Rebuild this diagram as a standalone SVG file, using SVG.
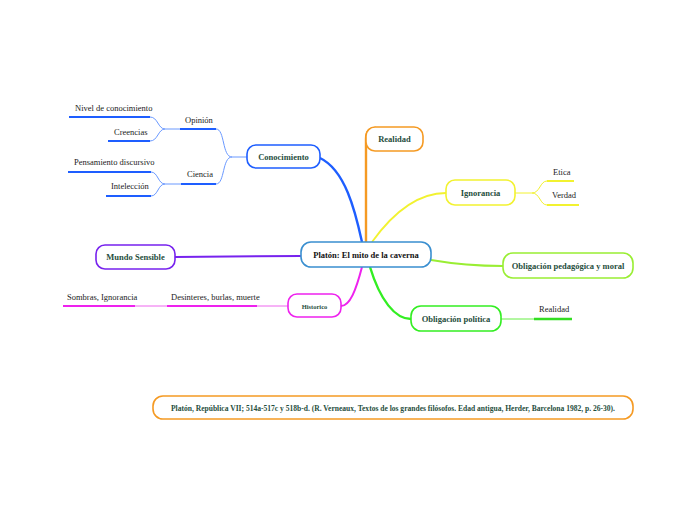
<svg xmlns="http://www.w3.org/2000/svg" width="697" height="520" viewBox="0 0 697 520">
<style>
text{font-family:"Liberation Serif",serif;font-size:8.5px;fill:#222}
.n{font-weight:bold;fill:#1f4e3d;text-anchor:middle}
.b{fill:#fff;stroke-width:1.6}
.c{fill:none}
</style>
<rect width="697" height="520" fill="#fff"/>
<g id="connectors" class="c" fill="none">
<path d="M362,242 C355,210 345,170 320,158" stroke="#1e5eff" stroke-width="2.4"/>
<path d="M366,242 L366,139 Q366,128 376,128" stroke="#f59a23" stroke-width="2.4"/>
<path d="M372,242 C395,210 420,193 446,193" stroke="#f2f230" stroke-width="1.8"/>
<path d="M431,260 C460,265 480,266 503,266" stroke="#99ee33" stroke-width="1.8"/>
<path d="M370,267 C380,300 395,319 411,319" stroke="#33ee22" stroke-width="2.4"/>
<path d="M301,256 L175,257" stroke="#7722ee" stroke-width="2"/>
<path d="M362,267 C356,290 350,306 341,306" stroke="#ee22ee" stroke-width="2"/>
<path d="M501,319 L534,319" stroke="#66ee44" stroke-width="1"/>
<path d="M534,319 L572,319" stroke="#33dd22" stroke-width="2.4"/>
<path d="M515,193 L532,193 C540,193 540,181 547,181 L574,181 M532,193 C540,193 540,205 547,205 L579,205" stroke="#f2f230" stroke-width="1"/>
<path d="M547,181 L574,181 M547,205 L579,205" stroke="#f2f230" stroke-width="2"/>
<path d="M288,306 L257,306" stroke="#ee66ee" stroke-width="1"/>
<path d="M257,306 L167,306" stroke="#ee22ee" stroke-width="2"/>
<path d="M167,306 L135,306" stroke="#ee66ee" stroke-width="1"/>
<path d="M135,306 L63,306" stroke="#ee22ee" stroke-width="2"/>
<path d="M247,157 L232,157 C222,157 225,129 216,129 M232,157 C222,157 225,184 216,184" stroke="#6a99ff" stroke-width="1"/>
<path d="M180,129 L216,129 M181,184 L216,184" stroke="#1e5eff" stroke-width="2.2"/>
<path d="M180,129 L165,129 C158,129 158,117 150,117 M165,129 C158,129 158,141 150,141 M181,184 L165,184 C158,184 158,172 151,172 M165,184 C158,184 158,196 151,196" stroke="#6a99ff" stroke-width="1"/>
<path d="M69,117 L150,117 M108,141 L150,141 M68,172 L151,172 M106,196 L151,196" stroke="#1e5eff" stroke-width="2.2"/>
</g>
<g id="center"><rect class="b" x="301" y="242" width="130" height="25" rx="10" stroke="#3a8fd0"/><text class="n" x="366" y="258" style="fill:#111">Platón: El mito de la caverna</text></g>
<g id="conocimiento"><rect class="b" x="247" y="145" width="73" height="23" rx="9" stroke="#1e5eff"/><text class="n" x="283.5" y="160">Conocimiento</text></g>
<g id="realidad"><rect class="b" x="366" y="127" width="57" height="24" rx="9" stroke="#f59a23"/><text class="n" x="394.5" y="142">Realidad</text></g>
<g id="ignorancia"><rect class="b" x="446" y="180" width="69" height="25" rx="9" stroke="#f2f230"/><text class="n" x="480.5" y="196">Ignorancia</text></g>
<g id="pedagogica"><rect class="b" x="503" y="253" width="130" height="25" rx="10" stroke="#99ee33"/><text class="n" x="568" y="269">Obligación pedagógica y moral</text></g>
<g id="politica"><rect class="b" x="411" y="306" width="90" height="25" rx="10" stroke="#33ee22"/><text class="n" x="456" y="322">Obligación política</text></g>
<g id="mundo"><rect class="b" x="96" y="245" width="79" height="24" rx="9" stroke="#7722ee"/><text class="n" x="135.5" y="260">Mundo Sensible</text></g>
<g id="historico"><rect class="b" x="288" y="294" width="53" height="23" rx="9" stroke="#ee22ee"/><text class="n" x="314.5" y="309" style="font-size:6.5px">Historico</text></g>
<g id="leaves">
<text x="553" y="175">Etica</text>
<text x="552" y="198">Verdad</text>
<text x="539" y="312">Realidad</text>
<text x="171" y="300">Desinteres, burlas, muerte</text>
<text x="67" y="300">So<tspan>mbras, Ignorancia</tspan></text>
<text x="185" y="123">Opinión</text>
<text x="75" y="111">Nivel de conocimiento</text>
<text x="114" y="135">Creencias</text>
<text x="187" y="177">Ciencia</text>
<text x="74" y="165">Pensamiento discursivo</text>
<text x="111" y="189">Intelección</text>
</g>
<g id="reference"><rect class="b" x="153" y="396" width="480" height="23" rx="10" stroke="#f59a23"/><text class="n" x="393" y="411" textLength="444" lengthAdjust="spacingAndGlyphs" style="font-size:8px">Platón, República VII; 514a-517c y 518b-d. (R. Verneaux, Textos de los grandes filósofos. Edad antigua, Herder, Barcelona 1982, p. 26-30).</text></g>
</svg>
